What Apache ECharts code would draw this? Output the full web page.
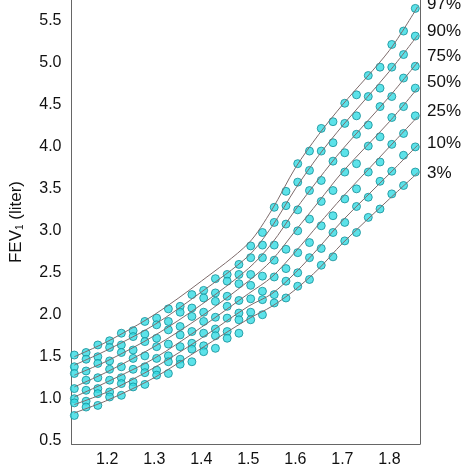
<!DOCTYPE html>
<html><head><meta charset="utf-8">
<script src="https://cdn.jsdelivr.net/npm/echarts@6/dist/echarts.min.js"></script>
<style>html,body{margin:0;padding:0;background:#fff}#c{width:474px;height:474px}</style>
</head><body><div id="c"></div>
<script>
const xTicks = [1.2,1.3,1.4,1.5,1.6,1.7,1.8];
const yTicks = [0.5,1.0,1.5,2.0,2.5,3.0,3.5,4.0,4.5,5.0,5.5];
const labels = ['97%','90%','75%','50%','25%','10%','3%'];
const curveX = [1.13,1.2,1.3,1.4,1.5,1.55,1.6,1.65,1.7,1.8,1.86];
const c97 = [1.50,1.68,2.00,2.40,2.85,3.25,3.75,4.15,4.50,5.15,5.67];
const c90 = [1.40,1.58,1.88,2.27,2.70,3.05,3.50,3.90,4.25,4.90,5.33];
const c75 = [1.28,1.45,1.75,2.12,2.55,2.85,3.25,3.62,3.97,4.60,5.01];
const c50 = [1.14,1.32,1.62,1.98,2.40,2.65,3.00,3.35,3.70,4.30,4.70];
const c25 = [1.02,1.20,1.48,1.85,2.25,2.45,2.75,3.08,3.40,4.00,4.36];
const c10 = [0.93,1.08,1.37,1.72,2.10,2.25,2.50,2.80,3.12,3.68,4.02];
const c03 = [0.83,0.98,1.25,1.60,1.95,2.10,2.30,2.55,2.85,3.38,3.69];
const dotX = [1.13,1.155,1.18,1.205,1.23,1.255,1.28,1.305,1.33,1.355,1.38,1.405,1.43,1.455,1.48,1.505,1.53,1.555,1.58,1.605,1.63,1.655,1.68,1.705,1.73,1.755,1.78,1.805,1.83,1.855];
const d97 = [1.52,1.55,1.64,1.69,1.78,1.81,1.92,1.96,2.07,2.10,2.24,2.29,2.43,2.48,2.60,2.82,2.98,3.28,3.47,3.80,3.95,4.22,4.30,4.52,4.62,4.85,4.95,5.22,5.38,5.65];
const d90 = [1.38,1.47,1.50,1.61,1.64,1.74,1.77,1.88,1.92,2.03,2.08,2.20,2.26,2.40,2.48,2.68,2.83,3.10,3.30,3.58,3.72,3.95,4.05,4.28,4.37,4.60,4.70,4.95,5.10,5.32];
const d75 = [1.30,1.33,1.42,1.45,1.55,1.58,1.68,1.72,1.82,1.86,1.98,2.03,2.16,2.22,2.37,2.48,2.68,2.83,3.08,3.25,3.48,3.60,3.83,3.93,4.15,4.26,4.48,4.60,4.82,4.96];
const d50 = [1.12,1.22,1.25,1.35,1.38,1.48,1.51,1.62,1.65,1.76,1.80,1.92,1.97,2.10,2.17,2.35,2.46,2.65,2.78,3.00,3.14,3.35,3.48,3.70,3.80,4.01,4.12,4.35,4.48,4.70];
const d25 = [1.00,1.10,1.12,1.22,1.25,1.35,1.38,1.48,1.51,1.62,1.66,1.78,1.83,1.96,2.02,2.19,2.28,2.45,2.55,2.74,2.86,3.06,3.18,3.38,3.50,3.70,3.82,4.03,4.16,4.37];
const d10 = [0.95,0.97,1.06,1.08,1.18,1.20,1.31,1.34,1.44,1.47,1.59,1.63,1.75,1.80,1.94,2.03,2.18,2.24,2.40,2.50,2.68,2.79,2.98,3.10,3.29,3.40,3.59,3.71,3.90,4.00];
const d03 = [0.80,0.90,0.92,1.02,1.04,1.14,1.17,1.28,1.30,1.41,1.44,1.56,1.60,1.72,1.78,1.94,2.00,2.14,2.20,2.34,2.42,2.59,2.69,2.88,2.98,3.16,3.26,3.44,3.54,3.70];

const curves=[c97,c90,c75,c50,c25,c10,c03], dots=[d97,d90,d75,d50,d25,d10,d03];
const series=[];
curves.forEach(c=>series.push({type:'line',smooth:0.3,symbol:'none',silent:true,
  lineStyle:{color:'#7d6b6b',width:1},data:curveX.map((x,i)=>[x,c[i]])}));
dots.forEach(d=>series.push({type:'scatter',symbolSize:8,
  itemStyle:{color:'#33dbe3',borderColor:'#138d96',borderWidth:1},data:dotX.map((x,i)=>[x,d[i]])}));
const font='Liberation Sans';
const chart=echarts.init(document.getElementById('c'));
chart.setOption({
  animation:false,
  grid:{left:68,right:54,top:0,bottom:30},
  xAxis:{type:'value',min:1.124,max:1.865,
    axisLine:{lineStyle:{color:'#666'}},splitLine:{show:false},
    axisTick:{show:false},
    axisLabel:{customValues:xTicks,color:'#111',fontSize:16,fontFamily:font,margin:8}},
  yAxis:[{type:'value',min:0.46,max:5.75,
    axisLine:{show:true,lineStyle:{color:'#666'}},splitLine:{show:false},axisTick:{show:false},
    axisLabel:{customValues:yTicks,formatter:v=>v.toFixed(1),color:'#111',fontSize:16,fontFamily:font,margin:10},
    name:'{a|FEV}{s|1}{a| (liter)}',nameLocation:'middle',nameGap:46,nameRotate:90,
    nameTextStyle:{rich:{a:{fontSize:17,fontFamily:font,color:'#111'},s:{fontSize:10,fontFamily:font,color:'#111',padding:[8,0,0,0]}}}},
   {type:'value',position:'right',min:0.46,max:5.75,axisLine:{show:true,lineStyle:{color:'#666'}},
    axisLabel:{show:false},axisTick:{show:false},splitLine:{show:false}}],
  graphic:labels.map((t,i)=>({type:'text',left:427,top:[-4,23,48,74,103,135,165][i],
    style:{text:t,font:'17px "Liberation Sans"',fill:'#111'}})),
  series
});
</script></body></html>
